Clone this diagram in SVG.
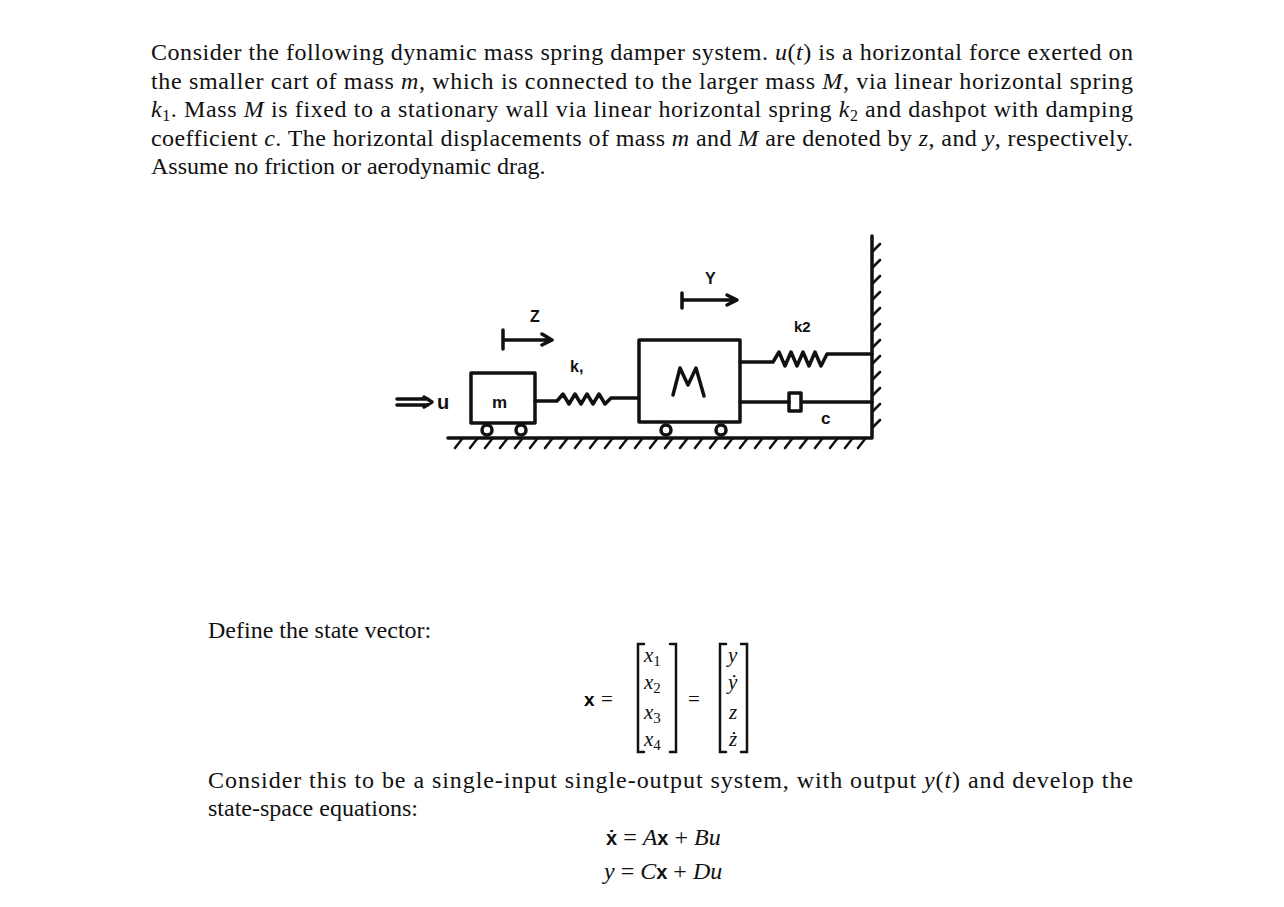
<svg xmlns="http://www.w3.org/2000/svg" width="1284" height="907" viewBox="0 0 1284 907">
<style>
.t{font-family:"Liberation Serif",serif;font-size:24px;fill:#111}
.i{font-style:italic}
.n{font-style:normal}
.s{stroke:#111;stroke-width:3.5;fill:none;stroke-linecap:round;stroke-linejoin:round}
.h{stroke:#111;stroke-width:2.5;fill:none;stroke-linecap:round}
.hw{font-family:"Liberation Sans",sans-serif;fill:#111;font-weight:bold}
.m{font-family:"Liberation Serif",serif;font-size:21px;fill:#111}
</style>
<rect width="1284" height="907" fill="#fff"/>
<g id="text">
<text class="t" x="151" y="60" textLength="982" lengthAdjust="spacing">Consider the following dynamic mass spring damper system. <tspan class="i">u</tspan>(<tspan class="i">t</tspan>) is a horizontal force exerted on</text>
<text class="t" x="151" y="89" textLength="982" lengthAdjust="spacing">the smaller cart of mass <tspan class="i">m</tspan>, which is connected to the larger mass <tspan class="i">M</tspan>, via linear horizontal spring</text>
<text class="t" x="151" y="117" textLength="982" lengthAdjust="spacing"><tspan class="i">k</tspan><tspan font-size="16" dy="4">1</tspan><tspan dy="-4">. Mass </tspan><tspan class="i">M</tspan> is fixed to a stationary wall via linear horizontal spring <tspan class="i">k</tspan><tspan font-size="16" dy="4">2</tspan><tspan dy="-4"> and dashpot with damping</tspan></text>
<text class="t" x="151" y="146" textLength="982" lengthAdjust="spacing">coefficient <tspan class="i">c</tspan>. The horizontal displacements of mass <tspan class="i">m</tspan> and <tspan class="i">M</tspan> are denoted by <tspan class="i">z</tspan>, and <tspan class="i">y</tspan>, respectively.</text>
<text class="t" x="151" y="174">Assume no friction or aerodynamic drag.</text>
<text class="t" x="208" y="638">Define the state vector:</text>
<text class="t" x="208" y="788" textLength="925" lengthAdjust="spacing">Consider this to be a single-input single-output system, with output <tspan class="i">y</tspan>(<tspan class="i">t</tspan>) and develop the</text>
<text class="t" x="208" y="816">state-space equations:</text>
</g>
<g id="matrix">
<text x="584" y="706" style="font-family:'Liberation Sans',sans-serif;font-weight:bold;font-size:19px">x</text>
<text class="m" x="601" y="706">=</text>
<path class="h" d="M644,644 H638 V752 H644 M670,644 H676 V752 H670" stroke-width="1.5"/>
<text class="m i" x="644" y="662">x<tspan class="n" font-size="15" dy="4">1</tspan></text>
<text class="m i" x="644" y="689">x<tspan class="n" font-size="15" dy="4">2</tspan></text>
<text class="m i" x="644" y="719">x<tspan class="n" font-size="15" dy="4">3</tspan></text>
<text class="m i" x="644" y="746">x<tspan class="n" font-size="15" dy="4">4</tspan></text>
<text class="m" x="688" y="706">=</text>
<path class="h" d="M726,644 H720 V752 H726 M741,644 H747 V752 H741" stroke-width="1.5"/>
<text class="m i" x="728" y="662">y</text>
<text class="m i" x="728" y="689">ẏ</text>
<text class="m i" x="729" y="719">z</text>
<text class="m i" x="729" y="746">ż</text>
</g>
<g id="equations">
<text class="t" x="606" y="845"><tspan font-family="Liberation Sans" font-weight="bold" font-size="20">ẋ</tspan> = <tspan class="i">A</tspan><tspan font-family="Liberation Sans" font-weight="bold" font-size="20">x</tspan> + <tspan class="i">Bu</tspan></text>
<text class="t" x="604" y="879"><tspan class="i">y</tspan> = <tspan class="i">C</tspan><tspan font-family="Liberation Sans" font-weight="bold" font-size="20">x</tspan> + <tspan class="i">Du</tspan></text>
</g>
<g id="sketch">
<path class="s" d="M448,438 H872 V236"/>
<path class="h" d="M455,448 l7,-9 M470,448 l7,-9 M485,448 l7,-9 M500,448 l7,-9 M515,448 l7,-9 M530,448 l7,-9 M545,448 l7,-9 M560,448 l7,-9 M575,448 l7,-9 M590,448 l7,-9 M605,448 l7,-9 M620,448 l7,-9 M635,448 l7,-9 M650,448 l7,-9 M665,448 l7,-9 M680,448 l7,-9 M695,448 l7,-9 M710,448 l7,-9 M725,448 l7,-9 M740,448 l7,-9 M755,448 l7,-9 M770,448 l7,-9 M785,448 l7,-9 M800,448 l7,-9 M815,448 l7,-9 M830,448 l7,-9 M845,448 l7,-9 M858,448 l7,-9"/>
<path class="h" d="M872,252 l8,-8 M872,268 l8,-8 M872,284 l8,-8 M872,300 l8,-8 M872,316 l8,-8 M872,332 l8,-8 M872,348 l8,-8 M872,364 l8,-8 M872,380 l8,-8 M872,396 l8,-8 M872,412 l8,-8 M872,428 l8,-8"/>
</g>
<g id="cart-m">
<rect class="s" x="471" y="373" width="64" height="50"/>
<circle class="s" cx="487" cy="430" r="5"/><circle class="s" cx="521" cy="430" r="5"/>
<text class="hw" x="492" y="408" font-size="17">m</text>
</g>
<g id="mass-M">
<rect class="s" x="639" y="340" width="101" height="82"/>
<circle class="s" cx="666" cy="430" r="5"/><circle class="s" cx="721" cy="430" r="5"/>
<path class="s" d="M673,395 L680,368 L688,385 L696,368 L704,396"/>
</g>
<g id="connectors">
<path class="s" d="M397,399 H428 M397,405 H428 M424,397 L432,402 L424,407"/>
<text class="hw" x="437" y="409" font-size="20">u</text>
<path class="s" d="M535,401 H557 l6,-7 l6,10 l6,-10 l6,10 l6,-10 l6,10 l6,-10 l6,10 l6,-6 H638"/>
<text class="hw" x="570" y="372" font-size="16">k,</text>
<path class="s" d="M740,362 H773 l6,-10 l6,14 l6,-14 l6,14 l6,-14 l6,14 l6,-14 l6,14 l6,-12 H872"/>
<text class="hw" x="794" y="332" font-size="15">k2</text>
<path class="s" d="M740,402 H789 M803,402 H872"/>
<rect class="s" x="789" y="393" width="12" height="18" stroke-width="2.5"/>
<text class="hw" x="821" y="424" font-size="17">c</text>
<path class="s" d="M503,330 V349 M503,340 H548 M542,334 L552,340 L542,345"/>
<text class="hw" x="530" y="322" font-size="16">Z</text>
<path class="s" d="M682,293 V308 M682,300 H733 M727,295 L737,300 L727,305"/>
<text class="hw" x="705" y="284" font-size="16">Y</text>
</g>
</svg>
